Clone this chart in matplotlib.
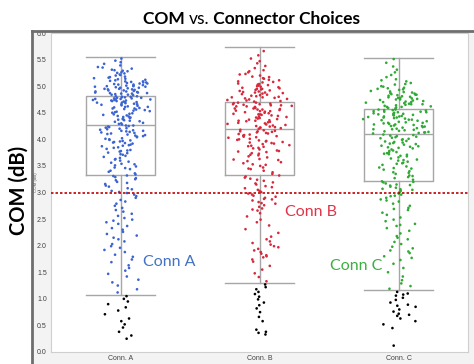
import numpy as np
import matplotlib
matplotlib.use("Agg")
import matplotlib.pyplot as plt
from matplotlib.lines import Line2D

plt.rcParams["font.family"] = ["Lato", "DejaVu Sans"]

categories = ["Conn. A", "Conn. B", "Conn. C"]
series_names = ["Conn A", "Conn B", "Conn C"]
series_colors = ["#3c63d2", "#d8283c", "#2faa35"]
text_colors = ["#4472c4", "#e0344a", "#3cb043"]

# box statistics (dB)
whisk_lo = [1.08, 1.30, 1.17]
q1 = [3.32, 3.33, 3.22]
median = [4.27, 4.19, 4.10]
q3 = [4.82, 4.70, 4.57]
whisk_hi = [5.55, 5.74, 5.53]

limit_db = 3.0

conn_a = [
    0.25, 0.31, 0.38, 0.46, 0.52, 0.58, 0.63, 0.71, 0.78, 0.84, 0.90, 0.95, 1.00, 1.05,
    1.47, 1.12, 1.83, 1.31, 1.69, 1.96, 1.25, 1.58, 1.36, 1.92, 1.18, 1.74, 1.53, 1.88,
    1.42, 1.63, 1.99, 1.79,
    2.03, 2.08, 2.12, 2.15, 2.19, 2.22, 2.26, 2.30, 2.33, 2.37, 2.41, 2.44, 2.47, 2.49,
    2.52, 2.56, 2.60, 2.64, 2.67, 2.71, 2.75, 2.79, 2.83, 2.86, 2.90, 2.93, 2.96, 2.99,
    3.01, 3.03, 3.06, 3.08, 3.11, 3.13, 3.16, 3.18, 3.20, 3.23, 3.25, 3.27, 3.29, 3.31, 3.32,
    3.34, 3.39, 3.36, 3.44, 3.41, 3.49, 3.47, 3.53, 3.51, 3.58, 3.56, 3.62, 3.60, 3.67,
    3.65, 3.71, 3.69, 3.74, 3.77, 3.75, 3.80, 3.82, 3.79, 3.85, 3.87, 3.84, 3.90, 3.92,
    3.89, 3.94, 3.96, 3.93, 3.98, 4.00, 3.97, 4.02, 4.04, 4.01, 4.06, 4.05, 4.08, 4.10,
    4.07, 4.12, 4.11, 4.14, 4.13, 4.16, 4.15, 4.18, 4.17, 4.20, 4.19, 4.22, 4.21, 4.24,
    4.23, 4.26, 4.25, 3.46, 3.63, 3.78, 3.88, 3.99, 4.09, 4.16, 3.54, 3.72, 3.95, 4.26,
    4.28, 4.31, 4.29, 4.33, 4.35, 4.30, 4.37, 4.39, 4.36, 4.41, 4.43, 4.40, 4.45, 4.44,
    4.47, 4.49, 4.46, 4.51, 4.50, 4.53, 4.55, 4.52, 4.57, 4.56, 4.58, 4.60, 4.59, 4.62,
    4.61, 4.63, 4.65, 4.64, 4.66, 4.68, 4.67, 4.69, 4.70, 4.71, 4.72, 4.73, 4.74, 4.72,
    4.75, 4.76, 4.77, 4.75, 4.78, 4.79, 4.80, 4.78, 4.81, 4.80, 4.34, 4.42, 4.48, 4.54,
    4.61, 4.66, 4.70, 4.74, 4.77, 4.79, 4.81, 4.38, 4.58, 4.69, 4.73, 4.76,
    4.83, 4.85, 4.84, 4.87, 4.86, 4.89, 4.88, 4.90, 4.92, 4.91, 4.93, 4.95, 4.94, 4.96,
    4.98, 4.97, 4.99, 5.00, 5.01, 5.03, 5.02, 5.04, 5.06, 5.05, 5.07, 5.09, 5.08, 5.10,
    5.12, 5.11, 5.14, 5.13, 5.16, 5.15, 5.18, 5.17, 5.20, 5.22, 5.21, 5.24, 5.26, 5.25,
    5.28, 5.30, 5.29, 5.33, 5.31, 5.36, 5.35, 5.39, 5.42, 5.45, 5.48, 5.52, 4.86, 4.90,
    4.94, 4.99, 5.03, 5.07, 4.84, 4.88, 4.92, 4.97, 5.01, 5.05, 4.87, 4.95, 5.00, 5.09,
]

conn_b = [
    0.33, 0.36, 0.38, 0.42, 0.58, 0.66, 0.75, 0.82, 0.88, 0.93, 0.99, 1.04, 1.09, 1.13,
    1.18, 1.22, 1.27,
    1.33, 1.41, 1.48, 1.55, 1.62, 1.70, 1.74, 1.78, 1.82, 1.85, 1.88, 1.91, 1.94, 1.97,
    1.99, 1.80,
    2.02, 2.05, 2.08, 2.12, 2.17, 2.24, 2.31, 2.38, 2.44, 2.49,
    2.55, 2.61, 2.66, 2.70, 2.73, 2.76, 2.79, 2.82, 2.85, 2.87, 2.90, 2.92, 2.94, 2.96,
    2.98, 2.68, 2.80, 2.88,
    3.01, 3.03, 3.05, 3.08, 3.10, 3.12, 3.15, 3.17, 3.19, 3.22, 3.24, 3.26, 3.28, 3.30, 3.32,
    3.35, 3.41, 3.38, 3.47, 3.44, 3.52, 3.50, 3.57, 3.55, 3.61, 3.59, 3.66, 3.63, 3.70,
    3.68, 3.73, 3.76, 3.74, 3.79, 3.81, 3.78, 3.84, 3.86, 3.83, 3.89, 3.91, 3.88, 3.93,
    3.95, 3.92, 3.97, 3.99, 3.96, 4.01, 4.03, 4.00, 4.05, 4.04, 4.07, 4.09, 4.06, 4.11,
    4.10, 4.13, 4.12, 4.15, 4.14, 4.17, 4.16, 4.18, 3.45, 3.62, 3.77, 3.87, 3.98, 4.08,
    4.15, 3.53, 3.71, 3.94,
    4.20, 4.22, 4.21, 4.24, 4.26, 4.23, 4.28, 4.27, 4.30, 4.32, 4.29, 4.34, 4.33, 4.36,
    4.38, 4.35, 4.40, 4.39, 4.42, 4.44, 4.41, 4.46, 4.45, 4.48, 4.50, 4.47, 4.52, 4.51,
    4.54, 4.53, 4.56, 4.55, 4.58, 4.57, 4.60, 4.59, 4.62, 4.61, 4.64, 4.63, 4.66, 4.65,
    4.67, 4.69, 4.68, 4.25, 4.31, 4.37, 4.43, 4.49, 4.53, 4.58, 4.62, 4.66, 4.22, 4.47,
    4.56, 4.64, 4.69, 4.35,
    4.71, 4.73, 4.72, 4.75, 4.77, 4.74, 4.79, 4.78, 4.81, 4.83, 4.80, 4.85, 4.87, 4.84,
    4.89, 4.91, 4.88, 4.93, 4.95, 4.92, 4.97, 4.99, 4.96, 5.02, 5.01, 5.05, 5.04, 5.08,
    5.07, 5.11, 5.14, 5.12, 5.17, 5.20, 5.18, 5.23, 5.26, 5.30, 5.28, 5.34, 5.38, 5.43,
    5.47, 5.52, 5.58, 5.66, 4.76, 4.82, 4.86, 4.90, 4.94, 4.98, 5.03, 5.09, 5.15, 5.22,
    4.79, 4.88, 4.95, 5.00,
]

conn_c = [
    0.12, 0.45, 0.52, 0.58, 0.63, 0.68, 0.72, 0.76, 0.80, 0.85, 0.89, 0.93, 0.98, 1.02,
    1.06, 1.10, 1.13, 0.70, 0.87, 1.08,
    1.19, 1.24, 1.29, 1.35, 1.42, 1.50, 1.58, 1.66, 1.73, 1.80, 1.86, 1.91, 1.95, 1.98,
    1.77, 1.89,
    2.03, 2.07, 2.12, 2.18, 2.23, 2.28, 2.33, 2.37, 2.41, 2.46, 2.49, 2.15, 2.39,
    2.53, 2.58, 2.62, 2.67, 2.71, 2.75, 2.79, 2.83, 2.87, 2.90, 2.93, 2.96, 2.98, 2.69,
    2.85, 2.94,
    3.01, 3.03, 3.05, 3.07, 3.09, 3.11, 3.13, 3.15, 3.17, 3.19, 3.21, 3.06, 3.14, 3.20,
    3.24, 3.29, 3.27, 3.35, 3.32, 3.40, 3.38, 3.45, 3.43, 3.49, 3.47, 3.54, 3.52, 3.58,
    3.56, 3.62, 3.60, 3.66, 3.64, 3.69, 3.71, 3.68, 3.74, 3.76, 3.73, 3.79, 3.81, 3.78,
    3.84, 3.86, 3.83, 3.88, 3.90, 3.87, 3.93, 3.95, 3.92, 3.97, 3.99, 3.96, 4.01, 4.03,
    4.00, 4.05, 4.04, 4.07, 4.09, 4.06, 4.08, 3.31, 3.46, 3.61, 3.75, 3.85, 3.94, 4.02,
    3.37, 3.55, 3.72, 3.91,
    4.11, 4.13, 4.12, 4.15, 4.17, 4.14, 4.19, 4.18, 4.21, 4.23, 4.20, 4.25, 4.24, 4.27,
    4.29, 4.26, 4.31, 4.30, 4.33, 4.35, 4.32, 4.37, 4.36, 4.39, 4.41, 4.38, 4.43, 4.42,
    4.45, 4.44, 4.47, 4.46, 4.49, 4.48, 4.51, 4.50, 4.53, 4.52, 4.54, 4.56, 4.55, 4.16,
    4.22, 4.28, 4.34, 4.40, 4.46, 4.51, 4.55, 4.13, 4.25, 4.37, 4.48, 4.56, 4.19, 4.31,
    4.43, 4.52, 4.28, 4.41,
    4.58, 4.60, 4.59, 4.62, 4.64, 4.61, 4.66, 4.65, 4.68, 4.70, 4.67, 4.72, 4.74, 4.71,
    4.76, 4.78, 4.75, 4.80, 4.82, 4.79, 4.84, 4.86, 4.83, 4.88, 4.91, 4.89, 4.94, 4.97,
    4.95, 5.00, 5.03, 5.06, 5.09, 5.13, 5.17, 5.21, 5.26, 5.31, 5.37, 5.44, 5.51, 4.63,
    4.69, 4.73, 4.77, 4.81, 4.85, 4.90, 4.93, 4.99, 5.04, 4.61, 4.70, 4.78, 4.87, 4.96,
    5.11, 4.66, 4.75, 4.84,
]

label_pos = [(0.16, 1.69), (1.18, 2.63), (1.51, 1.62)]


def scatter_offsets(vals, center):
    # hash-style sideways spread, wider where points are dense
    k = np.arange(len(vals))
    h1 = np.sin(k * 12.9898 + vals * 78.233 + center * 3.1) * 43758.5453 % 1.0
    h2 = np.sin(k * 39.3468 + vals * 11.135 + center * 7.7) * 24634.6345 % 1.0
    u = (h1 + h2) / 2 - 0.5
    counts, edges = np.histogram(vals, bins=np.arange(0, 6.01, 0.25))
    idx = np.clip(np.digitize(vals, edges) - 1, 0, len(counts) - 1)
    dens = counts[idx] / counts.max()
    half = 0.12 + 0.16 * dens
    return center + 2 * u * half


W, H = 474, 364
fig = plt.figure(figsize=(W / 100, H / 100), dpi=100)
fig.patch.set_facecolor("white")

# embedded-panel look: light background with dark left/top border
bg = fig.add_axes([32 / W, 0, 1 - 32 / W, 1 - 31 / H], zorder=-5)
bg.set_facecolor("#f3f3f3")
bg.set_xticks([])
bg.set_yticks([])
for sp in bg.spines.values():
    sp.set_visible(False)
fig.lines.append(Line2D([32 / W, 32 / W], [0, 1 - 31 / H], transform=fig.transFigure,
                        color="#6e6e6e", lw=2))
fig.lines.append(Line2D([32 / W, 1], [1 - 31 / H, 1 - 31 / H], transform=fig.transFigure,
                        color="#6e6e6e", lw=2))

ax = fig.add_axes([51 / W, 12 / H, 417 / W, 319 / H])
ax.set_facecolor("white")

stats = []
for i in range(3):
    stats.append({"whislo": whisk_lo[i], "q1": q1[i], "med": median[i],
                  "q3": q3[i], "whishi": whisk_hi[i], "fliers": []})
gray = dict(color="#a6a6a6", lw=1.0)
ax.bxp(stats, positions=[0, 1, 2], widths=0.5, capwidths=0.5, showfliers=False,
       boxprops=gray, whiskerprops=gray, capprops=gray,
       medianprops=gray, zorder=1)

for i, vals in enumerate([conn_a, conn_b, conn_c]):
    vals = np.array(vals)
    xs = scatter_offsets(vals, i)
    cols = np.where(vals < whisk_lo[i], "black", series_colors[i])
    ax.scatter(xs, vals, s=3.6, c=cols, linewidths=0, zorder=2)
    ax.text(label_pos[i][0], label_pos[i][1], series_names[i], color=text_colors[i],
            fontsize=11.5, ha="left", va="center", zorder=4)

ax.axhline(limit_db, color="#c00000", lw=1.2, ls=(0, (1.5, 1.2)), zorder=3)

ax.set_xlim(-0.5, 2.5)
ax.set_ylim(0, 6)
ax.set_xticks([0, 1, 2])
ax.set_xticklabels(categories, family="Liberation Sans")
ax.set_yticks(np.arange(0, 6.01, 0.5))
ax.set_yticklabels([f"{v:.1f}" for v in np.arange(0, 6.01, 0.5)], family="Liberation Sans")
ax.tick_params(length=0, labelsize=5, colors="#404040", pad=3)
ax.tick_params(axis="x", pad=2)
for sp in ax.spines.values():
    sp.set_color("#cfcfcf")
    sp.set_linewidth(0.8)

fig.text(35.5 / W, 1 - 182 / H, "COM (dB)", rotation=90, fontsize=3.2,
         color="#606060", ha="center", va="center", family="Liberation Sans")

fig.text(19 / W, 1 - 190 / H, "COM (dB)", rotation=90, fontsize=14.5,
         fontweight="bold", ha="center", va="center")

# title with mixed weights
vs = fig.text(199 / W, 1 - 18.5 / H, "vs.", fontsize=12.5, ha="center", va="center")
ax.annotate("COM ", xy=(0, 0), xycoords=vs, ha="right", va="bottom",
            fontsize=12.5, fontweight="bold", annotation_clip=False)
ax.annotate(" Connector Choices", xy=(1, 0), xycoords=vs, ha="left", va="bottom",
            fontsize=12.5, fontweight="bold", annotation_clip=False)

fig.savefig("out.png", dpi=100)
